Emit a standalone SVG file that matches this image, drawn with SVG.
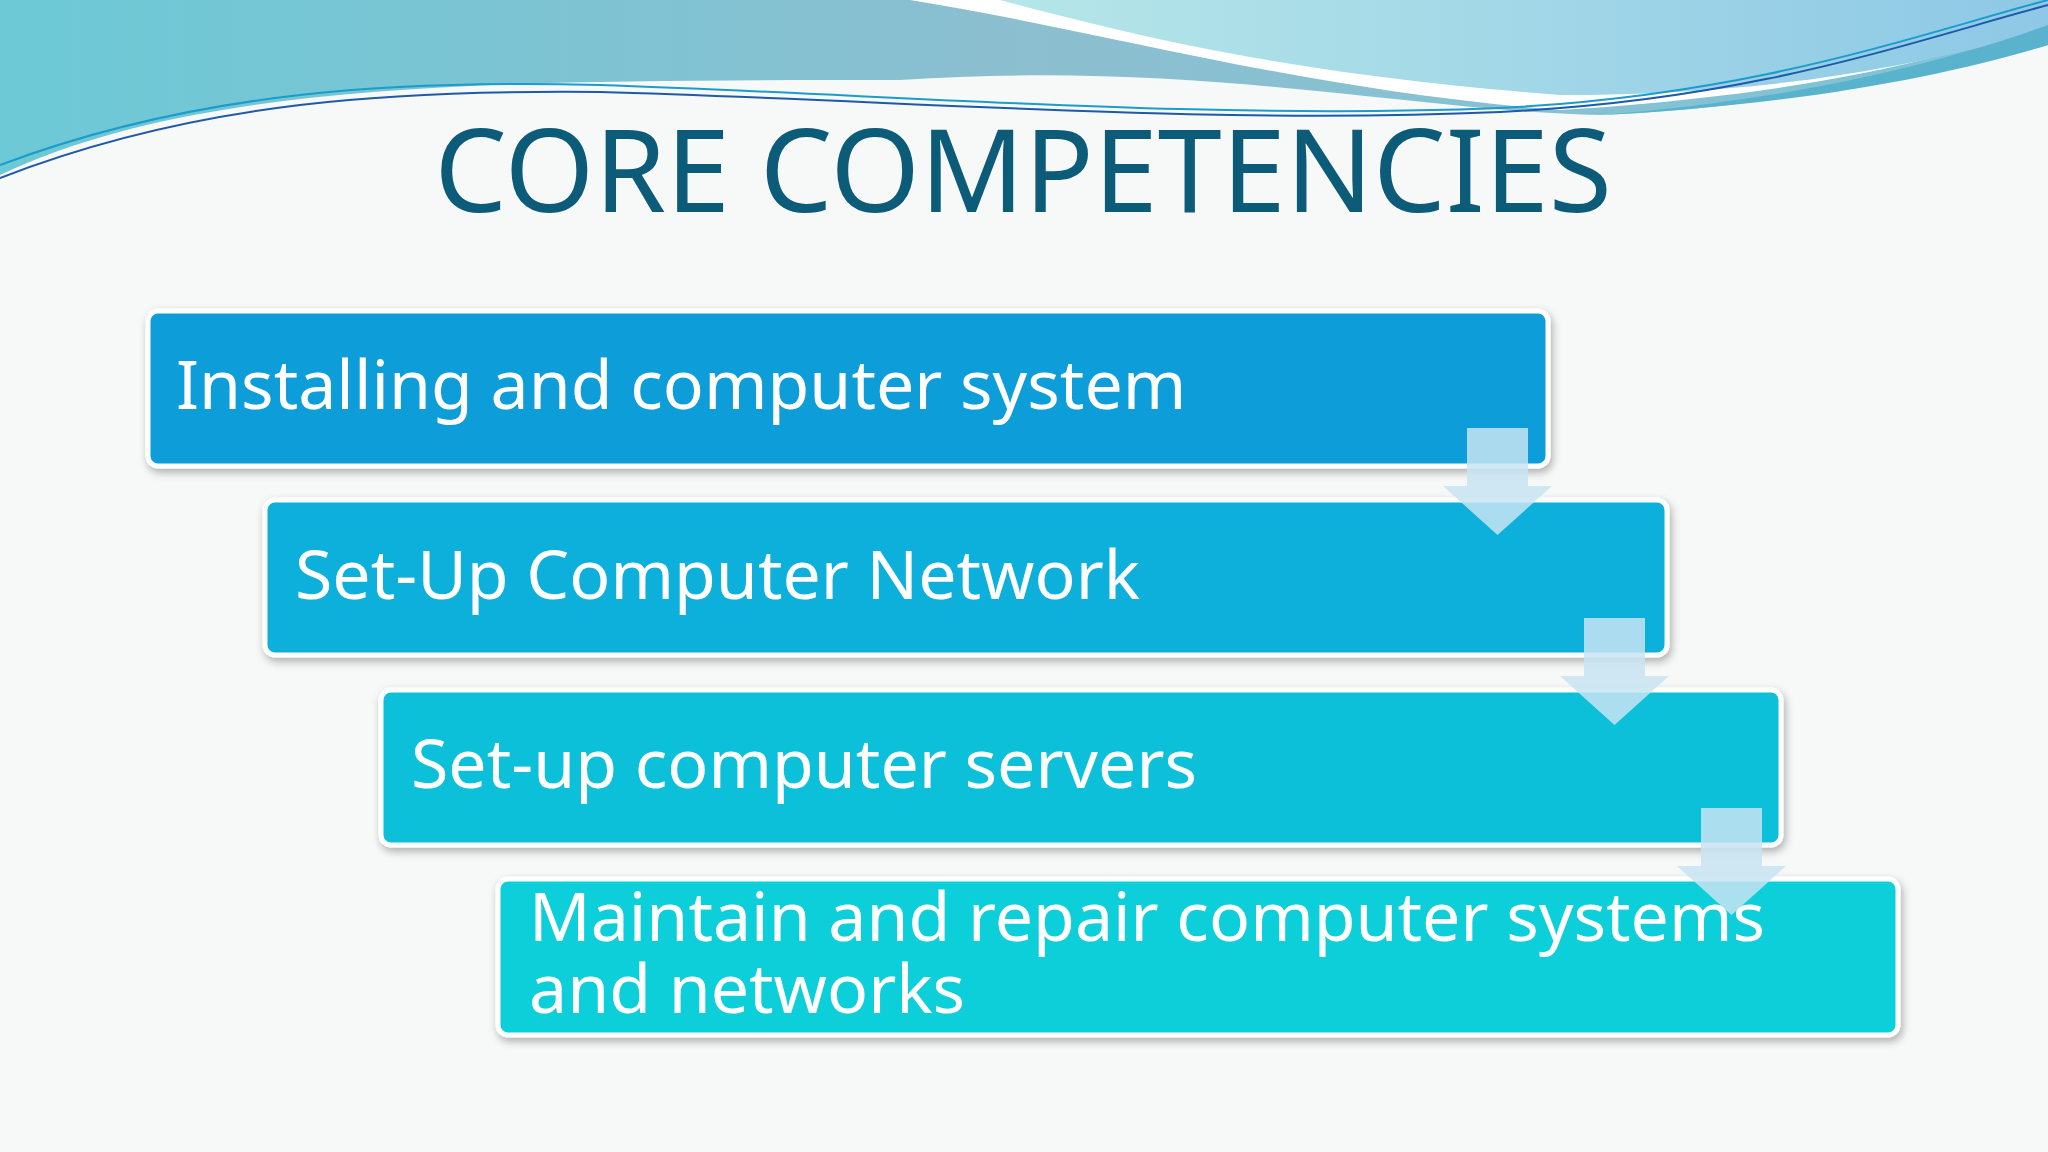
<svg xmlns="http://www.w3.org/2000/svg" width="2048" height="1152" viewBox="0 0 2048 1152">
<defs>
<linearGradient id="w1" x1="0" y1="0" x2="1" y2="0"><stop offset="0" stop-color="#6cc9d6"/><stop offset="0.5" stop-color="#8cbfd0"/><stop offset="1" stop-color="#7ec4d6"/></linearGradient>
<linearGradient id="w2" x1="0" y1="0" x2="1" y2="0"><stop offset="0" stop-color="#b5e6e8"/><stop offset="1" stop-color="#8ec8e6"/></linearGradient>
<filter id="sh" x="-5%" y="-10%" width="110%" height="130%"><feDropShadow dx="2" dy="4" stdDeviation="4" flood-color="#000" flood-opacity="0.3"/></filter>
<g id="arr"><path d="M0 0h61v58h24l-54.5 49L-24 58H0z" fill="#c8e4f2" fill-opacity="0.85"/></g>
</defs>
<style>
.box{stroke:#fff;stroke-width:5;filter:url(#sh)}
.t{font-family:"Noto Sans","Open Sans",sans-serif;font-size:68px;fill:#fff}
</style>
<rect width="2048" height="1152" fill="#f7f8f8"/>
<g id="bg">
<path d="M0 0H2048V45C1900 80 1750 110 1600 115C1400 110 1200 60 900 80C500 80 200 80 0 175Z" fill="url(#w1)"/>
<path d="M910 0H2048V20C1950 60 1800 95 1560 110C1300 90 1100 30 910 0Z" fill="#fff"/>
<path d="M1000 0H2048V30C1900 70 1760 95 1560 95C1300 75 1150 40 1000 0Z" fill="url(#w2)"/>
<path d="M1600 115C1800 100 1950 60 2048 25V45C1950 75 1800 105 1600 115Z" fill="#5ab3cc"/>
<path d="M0 165C200 90 400 80 600 85C900 95 1200 120 1500 108C1750 95 1900 40 2048 0" fill="none" stroke="#1a9ccc" stroke-width="2"/>
<path d="M0 178C200 100 400 90 600 92C900 100 1200 125 1500 112C1750 100 1900 45 2048 5" fill="none" stroke="#1e5aa8" stroke-width="2"/>
</g>
<text x="1023" y="212" text-anchor="middle" font-family="'Noto Sans','Open Sans',sans-serif" font-size="115" fill="#0b5b79">CORE COMPETENCIES</text>
<g id="n1"><rect class="box" x="148" y="311" width="1400" height="155" rx="10" fill="#0a9dd8"/><text class="t" x="176" y="409">Installing and computer system</text></g>
<g id="n2"><rect class="box" x="265" y="500" width="1402" height="155" rx="10" fill="#07afdb"/><text class="t" x="295" y="599">Set-Up Computer Network</text></g>
<g id="n3"><rect class="box" x="381" y="690" width="1400" height="155" rx="10" fill="#09c0da"/><text class="t" x="411" y="788">Set-up computer servers</text></g>
<g id="n4"><rect class="box" x="498" y="879" width="1400" height="156" rx="10" fill="#0ccfd9"/><text class="t" x="529" y="941">Maintain and repair computer systems</text><text class="t" x="529" y="1013">and networks</text></g>
<g id="connectors">
<use href="#arr" x="1467" y="428"/>
<use href="#arr" x="1584" y="618"/>
<use href="#arr" x="1701" y="808"/>
</g>
</svg>
